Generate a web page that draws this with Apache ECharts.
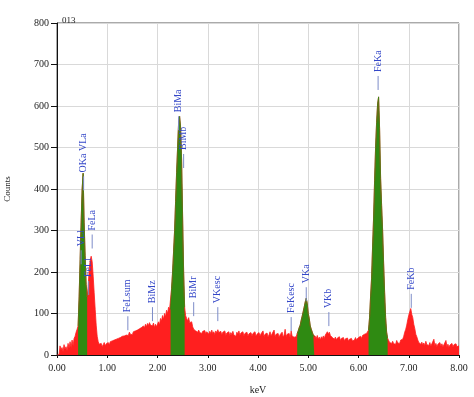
<!DOCTYPE html>
<html>
<head>
<meta charset="UTF-8">
<title>EDS spectrum</title>
<script src="https://cdn.jsdelivr.net/npm/echarts/dist/echarts.min.js"></script>
<style>
  body { margin: 0; background: #fff; }
</style>
</head>
<body>
<div id="main" style="width:474px;height:397px;"></div>
<script>
// channel width in keV, counts per 1 keV segment
var keVStep = 0.02;
var counts0 = [0,0,0,22,12,18,8,25,14,20, 10,28,16,32,18,36,22,40,45,55,
               62,70,140,230,320,400,438,320,240,170, 140,165,205,228,238,225,190,150,110,72,
               45,32,26,22,28,20,25,30,22,27];
var counts1 = [26,30,24,32,28,34,30,36,33,38, 35,40,37,42,39,45,41,46,43,48,
               52,47,55,50,54,49,56,52,58,54, 60,56,63,59,66,62,70,65,74,68,
               76,71,78,72,75,70,77,66,74,68];
var counts2 = [64,80,72,88,82,95,86,100,92,108, 100,115,110,110,160,200,250,300,370,440,
               500,560,575,548,470,330,200,115,95,88, 82,90,78,75,80,68,62,66,58,62,
               55,60,54,58,52,57,53,59,51,56];
var counts3 = [54,50,57,52,60,51,56,49,58,53, 61,54,50,57,48,55,51,58,47,53,
               50,56,46,54,49,57,48,52,45,55, 50,58,47,53,49,56,46,52,48,55,
               45,51,47,54,46,52,48,56,45,50];
var counts4 = [49,54,45,51,47,58,44,50,46,53, 43,49,56,45,51,47,60,44,50,46,
               52,42,49,45,55,43,48,62,44,50, 46,52,41,58,45,49,43,47,44,52,
               58,66,72,84,94,105,116,128,137,124];
var counts5 = [100,88,70,62,55,48,44,45,40,47, 38,43,36,44,39,46,40,48,52,56,
               50,55,47,51,42,46,38,43,36,41, 37,44,35,40,36,42,34,39,35,41,
               33,38,35,40,34,38,36,42,37,40];
var counts6 = [42,38,45,40,47,43,50,46,52,56, 60,90,140,185,260,330,420,500,560,605,
               622,545,425,360,300,220,150,90,55,40, 36,30,34,28,33,27,31,26,35,29,
               32,28,36,32,38,45,55,62,72,85];
var counts7 = [96,104,112,98,90,74,64,50,44,36, 30,34,26,31,24,29,22,33,25,28,
               23,30,21,27,24,38,22,28,20,26, 23,30,21,27,19,25,22,35,20,26,
               18,24,21,28,19,25,22,27,20,24, 22];

// energy windows shown in green (keV)
var peakWindows = [[0.42, 0.60], [2.26, 2.54], [4.78, 5.12], [6.20, 6.58]];

// line markers: name, energy (keV), counts where the text starts
var markerNames = ['OKa VLa', 'VLl', 'FeLl', 'FeLa', 'FeLsum', 'BiMz', 'BiMa', 'BiMb',
                   'BiMr', 'VKesc', 'FeKesc', 'VKa', 'VKb', 'FeKa', 'FeKb'];
var markerKeV   = [0.53, 0.48, 0.63, 0.70, 1.41, 1.90, 2.42, 2.52,
                   2.72, 3.20, 4.66, 4.96, 5.41, 6.39, 7.05];
var markerCount = [440, 262, 188, 300, 103, 125, 585, 494,
                   137, 125, 101, 173, 113, 682, 157];

var yTicks = [0, 100, 200, 300, 400, 500, 600, 700, 800];

var counts = [].concat(counts0, counts1, counts2, counts3, counts4, counts5, counts6, counts7);
var all = [], green = [];
counts.forEach(function (c, i) {
    var e = +(i * keVStep).toFixed(2);
    all.push([e, c]);
    var inPeak = peakWindows.some(function (w) { return e >= w[0] - 1e-6 && e <= w[1] + 1e-6; });
    green.push(inPeak ? [e, c] : [e, null]);
});
var markers = markerKeV.map(function (k, i) { return [k, markerCount[i]]; });

var serif = '"Liberation Serif", "DejaVu Serif", serif';
var myChart = echarts.init(document.getElementById('main'));
var option = {
    animation: false,
    title: {
        text: '013', left: 57, top: 11,
        textStyle: { fontFamily: serif, fontSize: 9, fontWeight: 'normal', color: '#222' }
    },
    grid: { left: 57, right: 15, top: 23, bottom: 42, containLabel: false, outerBoundsMode: 'none',
            show: true, borderColor: '#555', borderWidth: 1 },
    xAxis: {
        type: 'value', min: 0, max: 8, interval: 1,
        name: 'keV', nameLocation: 'middle', nameGap: 30,
        nameTextStyle: { fontFamily: serif, fontSize: 10, color: '#222' },
        axisLine: { lineStyle: { color: '#111' } },
        axisTick: { length: 3, lineStyle: { color: '#111' } },
        axisLabel: { fontFamily: serif, fontSize: 10, color: '#222', margin: 8,
                     formatter: function (v) { return v.toFixed(2); } },
        splitLine: { lineStyle: { color: '#d9d9d9' } }
    },
    yAxis: {
        type: 'value', min: yTicks[0], max: yTicks[yTicks.length - 1], interval: 100,
        name: 'Counts', nameLocation: 'middle', nameGap: 45,
        nameTextStyle: { fontFamily: serif, fontSize: 9, color: '#222' },
        axisLine: { show: true, lineStyle: { color: '#111' } },
        axisTick: { show: true, length: 6, lineStyle: { color: '#111' } },
        axisLabel: { fontFamily: serif, fontSize: 10, color: '#222', margin: 8 },
        splitLine: { lineStyle: { color: '#d9d9d9' } }
    },
    series: [
        {
            name: 'spectrum', type: 'line', data: all, symbol: 'none',
            lineStyle: { color: '#ff1f1f', width: 0.8 },
            areaStyle: { color: '#ff1f1f', opacity: 1 }
        },
        {
            name: 'peaks', type: 'line', data: green, symbol: 'none', connectNulls: false,
            lineStyle: { color: '#2f8a12', width: 0.8 },
            areaStyle: { color: '#2f8a12', opacity: 1 }
        },
        {
            name: 'markers', type: 'custom', data: markers, z: 5,
            renderItem: function (params, api) {
                var p = api.coord([api.value(0), api.value(1)]);
                return {
                    type: 'group',
                    children: [
                        { type: 'line', shape: { x1: p[0], y1: p[1] + 4, x2: p[0], y2: p[1] + 18 },
                          style: { stroke: '#7d8cc8', lineWidth: 1 } },
                        { type: 'text', x: p[0], y: p[1], rotation: Math.PI / 2,
                          style: { text: markerNames[params.dataIndex], fill: '#3447c8',
                                   font: '10px ' + serif, align: 'left', verticalAlign: 'middle' } }
                    ]
                };
            }
        }
    ]
};
myChart.setOption(option);
</script>
</body>
</html>
